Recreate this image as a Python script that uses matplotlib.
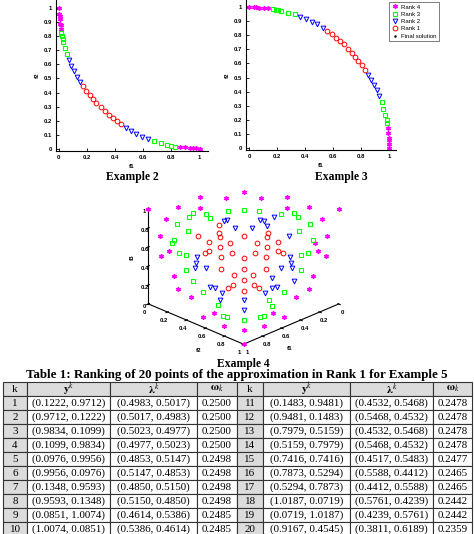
import matplotlib
matplotlib.use("Agg")
import matplotlib.pyplot as plt
from matplotlib.lines import Line2D

plt.rcParams['font.family'] = ['Liberation Sans', 'DejaVu Sans']
plt.rcParams['mathtext.fontset'] = 'stix'
plt.rcParams['axes3d.automargin'] = False

# ---- Example 2 (convex front) ----
ex2_r4_f1 = [0.0, 0.0, 0.005, 0.007, 0.01, 0.012, 0.014, 0.858, 0.894, 0.929, 0.953, 0.972, 1.0]
ex2_r4_f2 = [1.0, 0.96, 0.94, 0.925, 0.89, 0.877, 0.854, 0.014, 0.012, 0.009, 0.007, 0.005, 0.002]
ex2_r3_f1 = [0.019, 0.024, 0.028, 0.031, 0.043, 0.059, 0.674, 0.723, 0.771, 0.80, 0.827]
ex2_r3_f2 = [0.825, 0.80, 0.783, 0.76, 0.717, 0.672, 0.057, 0.04, 0.028, 0.021, 0.016]
ex2_r2_f1 = [0.073, 0.09, 0.106, 0.13, 0.154, 0.48, 0.515, 0.551, 0.591, 0.634]
ex2_r2_f2 = [0.63, 0.587, 0.552, 0.512, 0.476, 0.149, 0.13, 0.108, 0.087, 0.071]
ex2_r1_f1 = [0.173, 0.196, 0.22, 0.243, 0.267, 0.298, 0.326, 0.355, 0.385, 0.414, 0.444]
ex2_r1_f2 = [0.446, 0.413, 0.382, 0.351, 0.323, 0.295, 0.269, 0.241, 0.217, 0.198, 0.175]

# ---- Example 3 (concave front) ----
ex3_r4_f1 = [0.0, 0.036, 0.052, 0.071, 0.107, 0.137, 0.99, 0.995, 0.998, 1.0, 1.0, 1.0]
ex3_r4_f2 = [1.0, 1.0, 0.998, 0.995, 0.993, 0.99, 0.145, 0.109, 0.073, 0.055, 0.03, 0.0]
ex3_r3_f1 = [0.171, 0.19, 0.206, 0.23, 0.277, 0.327, 0.948, 0.96, 0.974, 0.983, 0.988]
ex3_r3_f2 = [0.983, 0.98, 0.979, 0.972, 0.96, 0.948, 0.327, 0.28, 0.232, 0.2, 0.178]
ex3_r2_f1 = [0.367, 0.408, 0.45, 0.486, 0.526, 0.853, 0.872, 0.893, 0.912, 0.931]
ex3_r2_f2 = [0.931, 0.912, 0.896, 0.877, 0.853, 0.521, 0.486, 0.45, 0.415, 0.367]
ex3_r1_f1 = [0.557, 0.592, 0.623, 0.652, 0.68, 0.706, 0.735, 0.758, 0.782, 0.806, 0.829]
ex3_r1_f2 = [0.829, 0.808, 0.782, 0.758, 0.735, 0.704, 0.675, 0.647, 0.618, 0.588, 0.557]

# ---- Example 4 (3 objectives), points as (f1, f2, f3) ----
ex4_r4 = [(1.0, 0.0, 1.0), (0.73, 0.04, 0.92), (0.56, 0.10, 0.98), (0.57, 0.11, 0.87),
          (0.39, 0.21, 0.95), (0.85, 0.03, 0.84), (0.93, 0.05, 0.71), (0.89, 0.11, 0.56),
          (0.98, 0.11, 0.54), (0.95, 0.22, 0.37), (0.99, 0.30, 0.28), (0.94, 0.39, 0.21),
          (1.0, 0.57, 0.10), (0.88, 0.57, 0.10), (0.93, 0.72, 0.04),
          (0.29, 0.29, 1.0), (0.85, 0.85, 0.02), (1.0, 1.0, 0.0),
          (0.0, 1.0, 1.0), (0.04, 0.73, 0.92), (0.10, 0.56, 0.98), (0.11, 0.57, 0.87),
          (0.21, 0.39, 0.95), (0.03, 0.85, 0.84), (0.05, 0.93, 0.71), (0.09, 0.84, 0.61),
          (0.11, 0.89, 0.56), (0.11, 0.98, 0.54), (0.22, 0.95, 0.37), (0.30, 0.99, 0.28),
          (0.39, 0.94, 0.21), (0.57, 1.0, 0.10), (0.57, 0.88, 0.10), (0.72, 0.93, 0.04)]
ex4_r3 = [(0.76, 0.06, 0.76), (0.65, 0.08, 0.80), (0.62, 0.09, 0.83), (0.53, 0.14, 0.81),
          (0.51, 0.16, 0.76), (0.39, 0.23, 0.82), (0.69, 0.11, 0.68), (0.82, 0.09, 0.64),
          (0.84, 0.09, 0.61), (0.82, 0.14, 0.52), (0.77, 0.17, 0.49), (0.83, 0.23, 0.38),
          (0.84, 0.31, 0.30), (0.83, 0.40, 0.22), (0.81, 0.54, 0.14), (0.85, 0.63, 0.08),
          (0.83, 0.66, 0.07),
          (0.305, 0.305, 0.82), (0.77, 0.77, 0.055),
          (0.23, 0.39, 0.82), (0.14, 0.53, 0.81), (0.09, 0.62, 0.83), (0.08, 0.65, 0.80),
          (0.06, 0.76, 0.76), (0.11, 0.69, 0.68), (0.09, 0.82, 0.64), (0.14, 0.82, 0.52),
          (0.17, 0.77, 0.49), (0.23, 0.83, 0.38), (0.40, 0.83, 0.22), (0.51, 0.78, 0.16),
          (0.53, 0.83, 0.13), (0.66, 0.83, 0.07), (0.63, 0.85, 0.08)]
ex4_r2 = [(0.43, 0.22, 0.72), (0.41, 0.24, 0.73), (0.38, 0.29, 0.66), (0.70, 0.21, 0.46),
          (0.73, 0.23, 0.41), (0.76, 0.25, 0.38), (0.68, 0.29, 0.37), (0.75, 0.40, 0.24),
          (0.72, 0.42, 0.23), (0.71, 0.48, 0.20), (0.76, 0.51, 0.16),
          (0.63, 0.63, 0.15), (0.695, 0.695, 0.10),
          (0.24, 0.41, 0.73), (0.22, 0.43, 0.72), (0.22, 0.47, 0.69), (0.17, 0.49, 0.77),
          (0.29, 0.38, 0.66), (0.15, 0.63, 0.62), (0.21, 0.70, 0.46), (0.23, 0.73, 0.41),
          (0.25, 0.76, 0.38), (0.29, 0.68, 0.37), (0.37, 0.67, 0.29), (0.31, 0.84, 0.30),
          (0.48, 0.71, 0.20), (0.42, 0.72, 0.23), (0.40, 0.75, 0.24)]
ex4_r1 = [(0.47, 0.21, 0.70), (0.49, 0.23, 0.63), (0.49, 0.24, 0.59), (0.63, 0.15, 0.62),
          (0.57, 0.21, 0.56), (0.45, 0.31, 0.54), (0.64, 0.23, 0.48), (0.60, 0.24, 0.49),
          (0.52, 0.27, 0.51), (0.55, 0.31, 0.43), (0.47, 0.35, 0.46), (0.60, 0.36, 0.35),
          (0.55, 0.45, 0.30), (0.64, 0.48, 0.22), (0.60, 0.49, 0.24),
          (0.355, 0.355, 0.59), (0.42, 0.42, 0.42), (0.47, 0.47, 0.34), (0.52, 0.52, 0.27),
          (0.57, 0.57, 0.20),
          (0.23, 0.49, 0.63), (0.24, 0.49, 0.59), (0.31, 0.45, 0.54), (0.21, 0.57, 0.56),
          (0.27, 0.52, 0.51), (0.35, 0.47, 0.46), (0.24, 0.60, 0.49), (0.23, 0.64, 0.48),
          (0.31, 0.55, 0.43), (0.36, 0.60, 0.35), (0.45, 0.55, 0.30), (0.49, 0.60, 0.24),
          (0.48, 0.64, 0.22)]

# ---- Table 1 ----
col_labels = ['k', r'$\mathbf{y}^{k}$', r'$\mathbf{\lambda}^{k}$', r'$\mathbf{\omega}_{k}$',
              'k', r'$\mathbf{y}^{k}$', r'$\mathbf{\lambda}^{k}$', r'$\mathbf{\omega}_{k}$']
k_left = ['1', '2', '3', '4', '5', '6', '7', '8', '9', '10']
y_left = ['(0.1222, 0.9712)', '(0.9712, 0.1222)', '(0.9834, 0.1099)', '(0.1099, 0.9834)',
          '(0.0976, 0.9956)', '(0.9956, 0.0976)', '(0.1348, 0.9593)', '(0.9593, 0.1348)',
          '(0.0851, 1.0074)', '(1.0074, 0.0851)']
lam_left = ['(0.4983, 0.5017)', '(0.5017, 0.4983)', '(0.5023, 0.4977)', '(0.4977, 0.5023)',
            '(0.4853, 0.5147)', '(0.5147, 0.4853)', '(0.4850, 0.5150)', '(0.5150, 0.4850)',
            '(0.4614, 0.5386)', '(0.5386, 0.4614)']
w_left = ['0.2500', '0.2500', '0.2500', '0.2500', '0.2498', '0.2498', '0.2498', '0.2498',
          '0.2485', '0.2485']
k_right = ['11', '12', '13', '14', '15', '16', '17', '18', '19', '20']
y_right = ['(0.1483, 0.9481)', '(0.9481, 0.1483)', '(0.7979, 0.5159)', '(0.5159, 0.7979)',
           '(0.7416, 0.7416)', '(0.7873, 0.5294)', '(0.5294, 0.7873)', '(1.0187, 0.0719)',
           '(0.0719, 1.0187)', '(0.9167, 0.4545)']
lam_right = ['(0.4532, 0.5468)', '(0.5468, 0.4532)', '(0.4532, 0.5468)', '(0.5468, 0.4532)',
             '(0.4517, 0.5483)', '(0.5588, 0.4412)', '(0.4412, 0.5588)', '(0.5761, 0.4239)',
             '(0.4239, 0.5761)', '(0.3811, 0.6189)']
w_right = ['0.2478', '0.2478', '0.2478', '0.2478', '0.2477', '0.2465', '0.2465', '0.2442',
           '0.2442', '0.2359']

W, H = 474, 534
fig = plt.figure(figsize=(W / 100, H / 100), dpi=100)

styles = [('Rank 4', dict(marker=(6, 2, 0), color='#ff00ff', ms=3.2, mew=1.0)),
          ('Rank 3', dict(marker='s', color='#00ff00', mfc='none', ms=3.0, mew=0.8)),
          ('Rank 2', dict(marker='v', color='#0000ff', mfc='none', ms=3.4, mew=0.7)),
          ('Rank 1', dict(marker='o', color='#ff0000', mfc='none', ms=3.4, mew=0.7))]

tick_kw = dict(fontsize=4.3, fontweight='bold')
lab_kw = dict(fontsize=4.5, fontweight='bold', ha='center', va='center')
title_kw = dict(fontsize=8.4, fontweight='bold', family='Liberation Serif', ha='center', va='center')


def front_axes(rect, series, xlim, ylim):
    ax = fig.add_axes(rect)
    for (lab, st), (x, y) in zip(styles, series):
        ax.plot(x, y, ls='none', label=lab, **st)
    ax.set_xlim(*xlim)
    ax.set_ylim(*ylim)
    for s in ['top', 'right']:
        ax.spines[s].set_visible(False)
    for s in ['left', 'bottom']:
        ax.spines[s].set_linewidth(0.8)
    xt = [0, 0.2, 0.4, 0.6, 0.8, 1]
    yt = [0, 0.1, 0.2, 0.3, 0.4, 0.5, 0.6, 0.7, 0.8, 0.9, 1]
    ax.set_xticks(xt)
    ax.set_xticklabels(['0', '0.2', '0.4', '0.6', '0.8', '1'], **tick_kw)
    ax.set_yticks(yt)
    ax.set_yticklabels(['0', '0.1', '0.2', '0.3', '0.4', '0.5', '0.6', '0.7', '0.8', '0.9', '1'],
                       **tick_kw)
    ax.tick_params(direction='in', length=2, width=0.6, pad=3)
    ax.set_xlabel('f1', fontsize=4.5, fontweight='bold', labelpad=3)
    ax.set_ylabel('f2', fontsize=4.5, fontweight='bold', labelpad=2.5)
    return ax


ax2 = front_axes([56 / W, 1 - 151 / H, 152 / W, 151 / H],
                 [(ex2_r4_f1, ex2_r4_f2), (ex2_r3_f1, ex2_r3_f2),
                  (ex2_r2_f1, ex2_r2_f2), (ex2_r1_f1, ex2_r1_f2)],
                 (-0.02, 1.06), (-0.015, 1.057))
fig.text(132 / W, 1 - 177 / H, 'Example 2', **title_kw)

ax3 = front_axes([246 / W, 1 - 150 / H, 150 / W, 150 / H],
                 [(ex3_r4_f1, ex3_r4_f2), (ex3_r3_f1, ex3_r3_f2),
                  (ex3_r2_f1, ex3_r2_f2), (ex3_r1_f1, ex3_r1_f2)],
                 (-0.021, 1.05), (-0.014, 1.05))
fig.text(341 / W, 1 - 177 / H, 'Example 3', **title_kw)
handles = ax3.get_lines()[:4] + [Line2D([], [], ls='none', marker='.', color='k', ms=1.5)]
leg = ax3.legend(handles, ['Rank 4', 'Rank 3', 'Rank 2', 'Rank 1', 'Final solution'],
                 loc='upper right', bbox_to_anchor=(439 / W, 1 - 2 / H),
                 bbox_transform=fig.transFigure, fontsize=4.3, frameon=True, fancybox=False,
                 handlelength=1.2, handletextpad=0.5, borderpad=0.4, labelspacing=0.35,
                 borderaxespad=0)
leg.get_frame().set_edgecolor('#444444')
leg.get_frame().set_linewidth(0.6)

# ---- Example 4, 3-D ----
ax4 = fig.add_axes([146 / W, 1 - 354 / H, 190 / W, 190 / H], projection='3d', proj_type='ortho')
ax4.patch.set_visible(False)
ax4.view_init(elev=25, azim=45)
ax4.set_box_aspect((1, 1, 0.78), zoom=1.11)
for (lab, st), pts in zip(styles, [ex4_r4, ex4_r3, ex4_r2, ex4_r1]):
    x, y, z = zip(*pts)
    ax4.plot(x, y, z, ls='none', clip_on=False, **st)
ax4.set_xlim(0, 1)
ax4.set_ylim(0, 1)
ax4.set_zlim(0, 1)
ax4.grid(False)
for axis in (ax4.xaxis, ax4.yaxis, ax4.zaxis):
    axis.pane.set_visible(False)
t3 = [0, 0.2, 0.4, 0.6, 0.8, 1]
t3_lab = ['0', '0.2', '0.4', '0.6', '0.8', '1']
ax4.set_xticks(t3)
ax4.set_xticklabels(t3_lab, **tick_kw)
ax4.set_yticks(t3)
ax4.set_yticklabels(t3_lab, **tick_kw)
ax4.set_zticks(t3)
ax4.set_zticklabels(t3_lab, **tick_kw)
ax4.tick_params(axis='x', pad=-5)
ax4.tick_params(axis='y', pad=-5)
ax4.tick_params(axis='z', pad=-6.5)
fig.text(290 / W, 1 - 348 / H, 'f1', **lab_kw)
fig.text(199 / W, 1 - 351 / H, 'f2', **lab_kw)
fig.text(132 / W, 1 - 257 / H, 'f3', rotation=90, **lab_kw)
fig.text(243 / W, 1 - 364 / H, 'Example 4', **title_kw)

# ---- Table ----
fig.text(237 / W, 1 - 375 / H,
         'Table 1: Ranking of 20 points of the approximation in Rank 1 for Example 5',
         fontsize=9.4, fontweight='bold', family='Liberation Serif', ha='center', va='center')
rows = [list(r) for r in zip(k_left, y_left, lam_left, w_left, k_right, y_right, lam_right, w_right)]
col_px = [24, 83, 87, 40, 26, 87, 83, 39]
axt = fig.add_axes([3 / W, -2 / H, 469 / W, 154 / H])
axt.axis('off')
tbl = axt.table(cellText=rows, colLabels=col_labels, colWidths=[c / sum(col_px) for c in col_px],
                cellLoc='center', bbox=[0, 0, 1, 1])
tbl.auto_set_font_size(False)
for (r, c), cell in tbl.get_celld().items():
    cell.set_edgecolor('#333333')
    cell.set_linewidth(0.8)
    cell.get_text().set_fontsize(7.9)
    cell.get_text().set_family('Liberation Serif')
    if r == 0 or c in (0, 4):
        cell.set_facecolor('#dcdcdc')
    else:
        cell.set_facecolor('white')

fig.savefig('out.png', dpi=100)
